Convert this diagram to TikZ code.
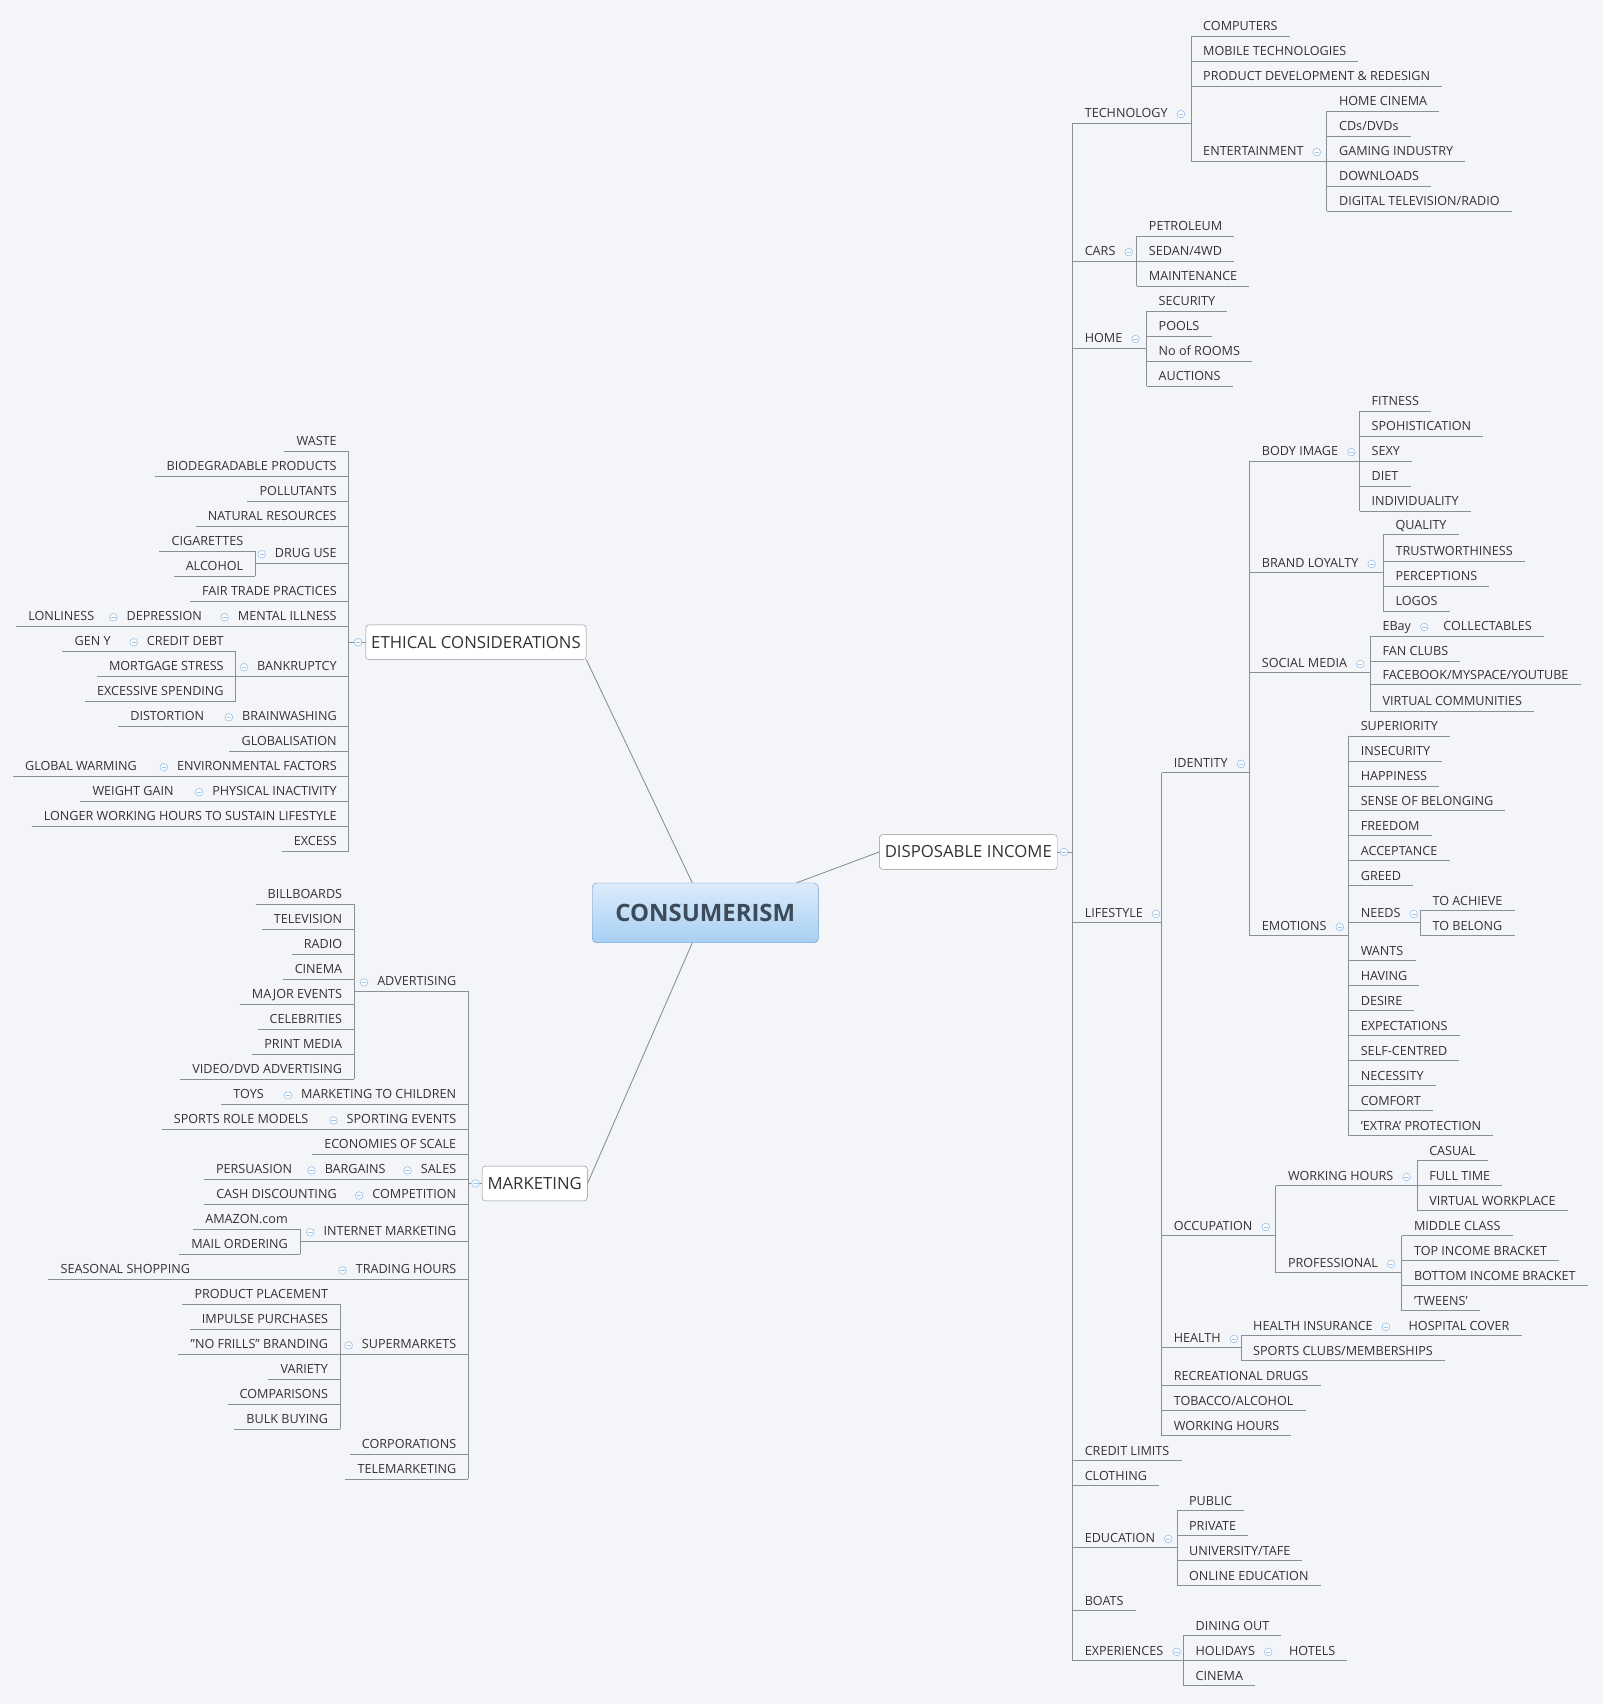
\documentclass[tikz,border=0pt]{standalone}
\usepackage{fontspec}
\setmainfont{Open Sans}
\definecolor{bg}{HTML}{F3F5F9}
\definecolor{ln}{HTML}{8A8F96}
\definecolor{tx}{HTML}{333333}
\definecolor{mk}{HTML}{9CC3EA}
\definecolor{cb}{HTML}{6A9CC9}
\definecolor{ct}{HTML}{DDEBFA}
\definecolor{cbt}{HTML}{A7D0F4}
\definecolor{ctx}{HTML}{3C4A5A}
\tikzset{
 ln/.style={draw=ln,line width=0.8pt},
 base/.style={inner xsep=11pt,inner ysep=3pt,text height=8pt,text depth=2pt,text=tx,font=\fontsize{11.6}{13}\selectfont},
 rn/.style={base,anchor=west,append after command={(\tikzlastnode.south west) edge[ln] (\tikzlastnode.south east)}},
 lnn/.style={base,anchor=east,append after command={(\tikzlastnode.south west) edge[ln] (\tikzlastnode.south east)}},
 box/.style={draw=ln,fill=white,rounded corners=3pt,inner xsep=5pt,minimum height=32pt,text=tx,font=\fontsize{15.4}{17}\selectfont},
 mkr/.style={circle,draw=mk,fill=white,line width=0.6pt,minimum size=7pt,inner sep=0pt,path picture={\draw[mk,line width=0.6pt] ([xshift=-2pt]path picture bounding box.center) -- ([xshift=2pt]path picture bounding box.center);}}
}
\newcommand\RN[4]{\node[rn] (#1) at (#2,#3) {#4};}
\newcommand\LN[4]{\node[lnn] (#1) at (#2,#3) {#4};}
\newcommand\RC[3]{\draw[ln] (#1.south east) -- (#1.south east -| #2.south west); \draw[ln] (#2.south west) -- (#3.south west); \node[mkr] at ([xshift=1pt]#1.east) {};}
\newcommand\RS[2]{\draw[ln] (#1.south east) -- (#2.south west); \node[mkr] at ([xshift=1pt]#1.east) {};}
\newcommand\LC[3]{\draw[ln] (#1.south west) -- (#1.south west -| #2.south east); \draw[ln] (#2.south east) -- (#3.south east); \node[mkr] at ([xshift=-1pt]#1.west) {};}
\newcommand\LS[2]{\draw[ln] (#1.south west) -- (#2.south east); \node[mkr] at ([xshift=-1pt]#1.west) {};}
\begin{document}
\begin{tikzpicture}[x=1pt,y=-1pt]
\fill[bg] (0,0) rectangle (1475,1568);
\useasboundingbox (0,0) rectangle (1475,1568);
% center and main boxes
\node[draw=cb,rounded corners=4pt,minimum width=208pt,minimum height=55pt,top color=ct,bottom color=cbt,text=ctx,font=\fontsize{22}{24}\selectfont\bfseries] (C) at (649,840) {CONSUMERISM};
\node[box] (DI) at (891,784) {DISPOSABLE INCOME};
\node[box] (ETH) at (438,591) {ETHICAL CONSIDERATIONS};
\node[box] (MKT) at (492,1089) {MARKETING};
\draw[ln] (C.north east) ++(-20,0) -- (DI.west);
\draw[ln] ([xshift=-12pt]C.north) -- (ETH.south east);
\draw[ln] ([xshift=-12pt]C.south) -- (MKT.east);
% DISPOSABLE INCOME branch
\RN{tech}{987}{105}{TECHNOLOGY}
\RN{cars}{987}{232}{CARS}
\RN{home}{987}{312}{HOME}
\RN{life}{987}{841}{LIFESTYLE}
\RN{cred}{987}{1336}{CREDIT LIMITS}
\RN{clo}{987}{1359}{CLOTHING}
\RN{edu}{987}{1416}{EDUCATION}
\RN{boat}{987}{1474}{BOATS}
\RN{exp}{987}{1520}{EXPERIENCES}
\draw[ln] (DI.east) -- (DI.east -| tech.south west);
\draw[ln] (tech.south west) -- (exp.south west);
\node[mkr] at ([xshift=6pt]DI.east) {};
% technology
\RN{t1}{1096}{25}{COMPUTERS}
\RN{t2}{1096}{48}{MOBILE TECHNOLOGIES}
\RN{t3}{1096}{71}{PRODUCT DEVELOPMENT \& REDESIGN}
\RN{ent}{1096}{140}{ENTERTAINMENT}
\RC{tech}{t1}{ent}
\RN{e1}{1221}{94}{HOME CINEMA}
\RN{e2}{1221}{117}{CDs/DVDs}
\RN{e3}{1221}{140}{GAMING INDUSTRY}
\RN{e4}{1221}{163}{DOWNLOADS}
\RN{e5}{1221}{186}{DIGITAL TELEVISION/RADIO}
\RC{ent}{e1}{e5}
% cars
\RN{c1}{1046}{209}{PETROLEUM}
\RN{c2}{1046}{232}{SEDAN/4WD}
\RN{c3}{1046}{255}{MAINTENANCE}
\RC{cars}{c1}{c3}
% home
\RN{h1}{1055}{278}{SECURITY}
\RN{h2}{1055}{301}{POOLS}
\RN{h3}{1055}{324}{No of ROOMS}
\RN{h4}{1055}{347}{AUCTIONS}
\RC{home}{h1}{h4}
% lifestyle
\RN{iden}{1069}{703}{IDENTITY}
\RN{occ}{1069}{1129}{OCCUPATION}
\RN{hea}{1069}{1232}{HEALTH}
\RN{l4}{1069}{1267}{RECREATIONAL DRUGS}
\RN{l5}{1069}{1290}{TOBACCO/ALCOHOL}
\RN{l6}{1069}{1313}{WORKING HOURS}
\RC{life}{iden}{l6}
% identity
\RN{bi}{1150}{416}{BODY IMAGE}
\RN{bl}{1150}{519}{BRAND LOYALTY}
\RN{sm}{1150}{611}{SOCIAL MEDIA}
\RN{emo}{1150}{853}{EMOTIONS}
\RC{iden}{bi}{emo}
\RN{b1}{1251}{370}{FITNESS}
\RN{b2}{1251}{393}{SPOHISTICATION}
\RN{b3}{1251}{416}{SEXY}
\RN{b4}{1251}{439}{DIET}
\RN{b5}{1251}{462}{INDIVIDUALITY}
\RC{bi}{b1}{b5}
\RN{q1}{1273}{484}{QUALITY}
\RN{q2}{1273}{508}{TRUSTWORTHINESS}
\RN{q3}{1273}{531}{PERCEPTIONS}
\RN{q4}{1273}{554}{LOGOS}
\RC{bl}{q1}{q4}
\RN{s1}{1261}{577}{EBay}
\RN{s2}{1261}{600}{FAN CLUBS}
\RN{s3}{1261}{622}{FACEBOOK/MYSPACE/YOUTUBE}
\RN{s4}{1261}{646}{VIRTUAL COMMUNITIES}
\RC{sm}{s1}{s4}
\RN{s1a}{1317}{577}{COLLECTABLES}
\RS{s1}{s1a}
\RN{m1}{1241}{669}{SUPERIORITY}
\RN{m2}{1241}{692}{INSECURITY}
\RN{m3}{1241}{715}{HAPPINESS}
\RN{m4}{1241}{738}{SENSE OF BELONGING}
\RN{m5}{1241}{761}{FREEDOM}
\RN{m6}{1241}{784}{ACCEPTANCE}
\RN{m7}{1241}{807}{GREED}
\RN{need}{1241}{841}{NEEDS}
\RN{m9}{1241}{876}{WANTS}
\RN{m10}{1241}{899}{HAVING}
\RN{m11}{1241}{922}{DESIRE}
\RN{m12}{1241}{945}{EXPECTATIONS}
\RN{m13}{1241}{968}{SELF-CENTRED}
\RN{m14}{1241}{991}{NECESSITY}
\RN{m15}{1241}{1014}{COMFORT}
\RN{m16}{1241}{1037}{\symbol{39}EXTRA\symbol{39} PROTECTION}
\RC{emo}{m1}{m16}
\RN{n1}{1307}{830}{TO ACHIEVE}
\RN{n2}{1307}{853}{TO BELONG}
\RC{need}{n1}{n2}
% occupation
\RN{wh}{1174}{1083}{WORKING HOURS}
\RN{pro}{1174}{1163}{PROFESSIONAL}
\RC{occ}{wh}{pro}
\RN{w1}{1304}{1060}{CASUAL}
\RN{w2}{1304}{1083}{FULL TIME}
\RN{w3}{1304}{1106}{VIRTUAL WORKPLACE}
\RC{wh}{w1}{w3}
\RN{p1}{1290}{1129}{MIDDLE CLASS}
\RN{p2}{1290}{1152}{TOP INCOME BRACKET}
\RN{p3}{1290}{1175}{BOTTOM INCOME BRACKET}
\RN{p4}{1290}{1198}{\symbol{39}TWEENS\symbol{39}}
\RC{pro}{p1}{p4}
% health
\RN{hi}{1142}{1221}{HEALTH INSURANCE}
\RN{hs}{1142}{1244}{SPORTS CLUBS/MEMBERSHIPS}
\RC{hea}{hi}{hs}
\RN{hc}{1285}{1221}{HOSPITAL COVER}
\RS{hi}{hc}
% education
\RN{d1}{1083}{1382}{PUBLIC}
\RN{d2}{1083}{1405}{PRIVATE}
\RN{d3}{1083}{1428}{UNIVERSITY/TAFE}
\RN{d4}{1083}{1451}{ONLINE EDUCATION}
\RC{edu}{d1}{d4}
% experiences
\RN{x1}{1089}{1497}{DINING OUT}
\RN{hol}{1089}{1520}{HOLIDAYS}
\RN{x3}{1089}{1543}{CINEMA}
\RC{exp}{x1}{x3}
\RN{hot}{1175}{1520}{HOTELS}
\RS{hol}{hot}
% ETHICAL branch
\LN{a1}{321}{407}{WASTE}
\LN{a2}{321}{430}{BIODEGRADABLE PRODUCTS}
\LN{a3}{321}{453}{POLLUTANTS}
\LN{a4}{321}{476}{NATURAL RESOURCES}
\LN{drug}{321}{510}{DRUG USE}
\LN{a6}{321}{545}{FAIR TRADE PRACTICES}
\LN{ment}{321}{568}{MENTAL ILLNESS}
\LN{bank}{321}{614}{BANKRUPTCY}
\LN{brain}{321}{660}{BRAINWASHING}
\LN{a10}{321}{683}{GLOBALISATION}
\LN{env}{321}{706}{ENVIRONMENTAL FACTORS}
\LN{phys}{321}{729}{PHYSICAL INACTIVITY}
\LN{a13}{321}{752}{LONGER WORKING HOURS TO SUSTAIN LIFESTYLE}
\LN{a14}{321}{775}{EXCESS}
\draw[ln] (ETH.west) -- (ETH.west -| a1.south east);
\draw[ln] (a1.south east) -- (a14.south east);
\node[mkr] at ([xshift=-7pt]ETH.west) {};
\LN{g1}{235}{499}{CIGARETTES}
\LN{g2}{235}{522}{ALCOHOL}
\LC{drug}{g1}{g2}
\LN{dep}{197}{568}{DEPRESSION}
\LS{ment}{dep}
\LN{lon}{98}{568}{LONLINESS}
\LS{dep}{lon}
\LN{k1}{217}{591}{CREDIT DEBT}
\LN{k2}{217}{614}{MORTGAGE STRESS}
\LN{k3}{217}{637}{EXCESSIVE SPENDING}
\LC{bank}{k1}{k3}
\LN{geny}{113}{591}{GEN Y}
\LS{k1}{geny}
\LN{dist}{199}{660}{DISTORTION}
\LS{brain}{dist}
\LN{glw}{137}{706}{GLOBAL WARMING}
\LS{env}{glw}
\LN{wg}{171}{729}{WEIGHT GAIN}
\LS{phys}{wg}
% MARKETING branch
\LN{adv}{431}{904}{ADVERTISING}
\LN{mtc}{431}{1008}{MARKETING TO CHILDREN}
\LN{spe}{431}{1031}{SPORTING EVENTS}
\LN{eco}{431}{1054}{ECONOMIES OF SCALE}
\LN{sal}{431}{1077}{SALES}
\LN{comp}{431}{1100}{COMPETITION}
\LN{im}{431}{1134}{INTERNET MARKETING}
\LN{th}{431}{1169}{TRADING HOURS}
\LN{sup}{431}{1238}{SUPERMARKETS}
\LN{corp}{431}{1330}{CORPORATIONS}
\LN{tel}{431}{1353}{TELEMARKETING}
\draw[ln] (MKT.west) -- (MKT.west -| adv.south east);
\draw[ln] (adv.south east) -- (tel.south east);
\node[mkr] at ([xshift=-6pt]MKT.west) {};
\LN{v1}{326}{824}{BILLBOARDS}
\LN{v2}{326}{847}{TELEVISION}
\LN{v3}{326}{870}{RADIO}
\LN{v4}{326}{893}{CINEMA}
\LN{v5}{326}{916}{MAJOR EVENTS}
\LN{v6}{326}{939}{CELEBRITIES}
\LN{v7}{326}{962}{PRINT MEDIA}
\LN{v8}{326}{985}{VIDEO/DVD ADVERTISING}
\LC{adv}{v1}{v8}
\LN{toys}{254}{1008}{TOYS}
\LS{mtc}{toys}
\LN{srm}{295}{1031}{SPORTS ROLE MODELS}
\LS{spe}{srm}
\LN{barg}{366}{1077}{BARGAINS}
\LS{sal}{barg}
\LN{pers}{280}{1077}{PERSUASION}
\LS{barg}{pers}
\LN{cash}{321}{1100}{CASH DISCOUNTING}
\LS{comp}{cash}
\LN{i1}{276}{1123}{AMAZON.com}
\LN{i2}{276}{1146}{MAIL ORDERING}
\LC{im}{i1}{i2}
\LN{seas}{186}{1169}{SEASONAL SHOPPING}
\LS{th}{seas}
\LN{u1}{313}{1192}{PRODUCT PLACEMENT}
\LN{u2}{313}{1215}{IMPULSE PURCHASES}
\LN{u3}{313}{1238}{\symbol{34}NO FRILLS\symbol{34} BRANDING}
\LN{u4}{313}{1261}{VARIETY}
\LN{u5}{313}{1284}{COMPARISONS}
\LN{u6}{313}{1307}{BULK BUYING}
\LC{sup}{u1}{u6}
\end{tikzpicture}
\end{document}
